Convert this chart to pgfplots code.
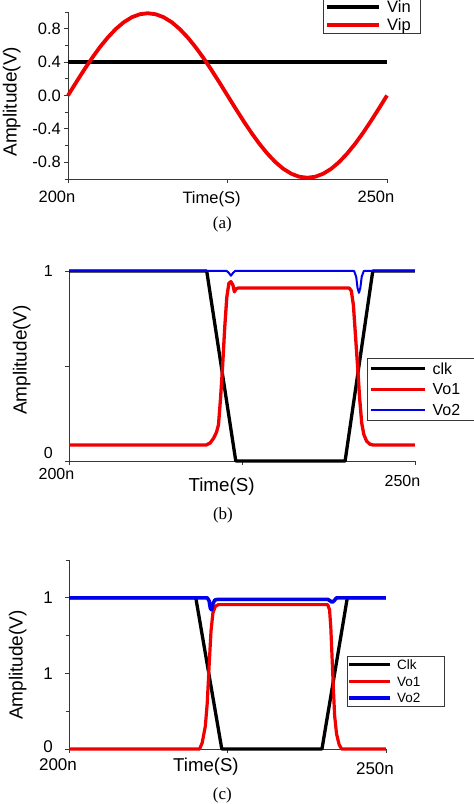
\documentclass[border=0pt]{standalone}
\usepackage{fontspec}
\setmainfont{Liberation Serif}
\setsansfont{Liberation Sans}
\usepackage{pgfplots}
\pgfplotsset{compat=1.18}

\definecolor{sigred}{RGB}{240,0,0}
\definecolor{sigblue}{RGB}{0,0,235}
\definecolor{axgray}{RGB}{55,55,55}
\newcommand\fs[1]{\fontsize{#1}{#1}\selectfont}

\pgfplotsset{
  panel/.style={
    scale only axis, clip=false,
    axis x line=bottom, axis y line=left,
    axis line style={-, line width=0.9pt, axgray},
    tick style={line width=0.9pt, axgray},
    tick align=outside, major tick length=4pt, minor tick length=3pt,
    xmin=200, xmax=250, xtick={200,225,250},
    /pgf/number format/assume math mode=true,
    xticklabel style={anchor=base, inner sep=0pt, xshift=-11pt},
    yticklabel style={anchor=east, inner sep=0pt},
    legend cell align=left,
    every axis plot/.append style={line join=round},
  },
}

\begin{document}
\begin{tikzpicture}
\useasboundingbox (0pt,0pt) rectangle (474pt,804pt);

% ---------- (a) input signals ----------
\begin{axis}[panel,
  at={(68pt,625pt)}, anchor=south west, width=319pt, height=167pt,
  ymin=-1, ymax=1,
  ytick={-0.8,-0.4,0,0.4,0.8}, yticklabels={-0.8,-0.4,0.0,0.4,0.8},
  minor ytick={-1,-0.6,-0.2,0.2,0.6,1},
  xticklabels={200n,,250n},
  tick label style={font=\sffamily\fs{16.5}},
  xticklabel style={yshift=-19.5pt},
  yticklabel style={xshift=-3pt},
  xlabel={Time(S)},
  xlabel style={at={(axis description cs:0.45,0)}, anchor=base, yshift=-25pt, font=\sffamily\fs{16.5}},
  ylabel={Amplitude(V)},
  ylabel style={at={(axis description cs:-0.161,0.463)}, anchor=base, font=\sffamily\fs{19}},
  legend style={at={(axis description cs:0.7994,0.868)}, anchor=south west,
    draw=axgray, line width=0.8pt, fill=white, inner sep=0pt, row sep=0pt,
    font=\sffamily\fs{16.5},
    nodes={inner sep=0pt, text height=14.75pt, text depth=2.95pt}},
  legend image code/.code={\draw[#1] (0pt,0pt) -- (52pt,0pt); \path (-2pt,0pt) (58pt,0pt);},
]
\addplot[black, line width=3.3pt] coordinates {(200,0.4) (250,0.4)};
\addlegendentry{Vin\hspace*{10pt}}
\addplot[sigred, line width=3.8pt] coordinates {
 (200,0) (201.25,0.154) (202.5,0.304) (203.75,0.447) (205,0.579)
 (206.25,0.696) (207.5,0.797) (208.75,0.878) (210,0.937) (211.25,0.973)
 (212.5,0.985) (213.75,0.973) (215,0.937) (216.25,0.878) (217.5,0.797)
 (218.75,0.696) (220,0.579) (221.25,0.447) (222.5,0.304) (223.75,0.154)
 (225,0) (226.25,-0.154) (227.5,-0.304) (228.75,-0.447) (230,-0.579)
 (231.25,-0.696) (232.5,-0.797) (233.75,-0.878) (235,-0.937) (236.25,-0.973)
 (237.5,-0.985) (238.75,-0.973) (240,-0.937) (241.25,-0.878) (242.5,-0.797)
 (243.75,-0.696) (245,-0.579) (246.25,-0.447) (247.5,-0.304) (248.75,-0.154)
 (250,0)};
\addlegendentry{Vip\hspace*{10pt}}
\node[font=\rmfamily\fs{17}] at (axis description cs:0.484,-0.269) {(a)};
\end{axis}

% ---------- (b) comparator outputs ----------
\begin{axis}[panel,
  at={(69pt,343pt)}, anchor=south west, width=346pt, height=190pt,
  ymin=0, ymax=1,
  ytick={0.5,1}, yticklabels={,1},
  extra y ticks={0}, extra y tick labels={0},
  extra y tick style={yticklabel style={yshift=8pt}},
  xticklabels={\raisebox{7pt}{200n},,250n},
  tick label style={font=\sffamily\fs{16}},
  xticklabel style={yshift=-21.5pt, xshift=-1.5pt},
  yticklabel style={xshift=-12pt},
  xlabel={Time(S)},
  xlabel style={at={(axis description cs:0.441,0)}, anchor=base, yshift=-30.7pt, font=\sffamily\fs{18.8}},
  ylabel={Amplitude(V)},
  ylabel style={at={(axis description cs:-0.1225,0.532)}, anchor=base, font=\sffamily\fs{19}},
  legend style={at={(axis description cs:0.861,0.542)}, anchor=north west,
    draw=axgray, line width=0.8pt, fill=white, inner sep=0pt, row sep=0pt,
    font=\sffamily\fs{16},
    nodes={inner sep=0pt, text height=15.95pt, text depth=4.55pt}},
  legend image code/.code={\draw[#1] (0pt,0pt) -- (54pt,0pt); \path (-2pt,0pt) (60pt,0pt);},
]
\addplot[black, line width=3.3pt] coordinates {
 (200,1) (219.9,1) (224.1,0) (239.9,0) (243.9,1) (250,1)};
\addlegendentry{clk\hspace*{22pt}}
\addplot[sigred, line width=3.3pt] coordinates {
 (200,0.084) (219.8,0.084) (220.4,0.095) (220.9,0.12) (221.3,0.15) (221.6,0.19)
 (221.9,0.33) (222.2,0.5) (222.5,0.7) (222.8,0.86) (223.1,0.935) (223.4,0.944)
 (223.7,0.925) (223.9,0.89) (224.1,0.905) (224.4,0.91) (240.5,0.91) (240.8,0.895)
 (241.1,0.82) (241.4,0.66) (241.7,0.5) (242.0,0.33) (242.3,0.2) (242.6,0.14)
 (243.0,0.105) (243.5,0.088) (244.0,0.084) (250,0.084)};
\addlegendentry{Vo1\hspace*{22pt}}
\addplot[sigblue, line width=2pt] coordinates {
 (200,1) (222.8,1) (223.1,0.99) (223.4,0.975) (223.7,0.99) (224.0,1)
 (241.2,1) (241.5,0.97) (241.7,0.91) (241.9,0.885) (242.1,0.91) (242.3,0.97)
 (242.6,1) (250,1)};
\addlegendentry{Vo2\hspace*{22pt}}
\node[font=\rmfamily\fs{17}] at (axis description cs:0.445,-0.284) {(b)};
\end{axis}

% ---------- (c) comparator outputs, second design ----------
\begin{axis}[panel,
  at={(69pt,55pt)}, anchor=south west, width=317pt, height=189pt,
  ymin=0, ymax=1.25,
  ytick={0.5,1}, yticklabels={1,1},
  extra y ticks={0}, extra y tick labels={0},
  extra y tick style={yticklabel style={yshift=2pt}},
  minor ytick={0.25,0.75,1.25},
  xticklabels={\raisebox{4pt}{200n},,250n},
  tick label style={font=\sffamily\fs{17}},
  xticklabel style={yshift=-21pt},
  yticklabel style={xshift=-12pt},
  xlabel={Time(S)},
  xlabel style={at={(axis description cs:0.432,0)}, anchor=base, yshift=-22.6pt, font=\sffamily\fs{18.6}},
  ylabel={Amplitude(V)},
  ylabel style={at={(axis description cs:-0.146,0.444)}, anchor=base, font=\sffamily\fs{19}},
  legend style={at={(axis description cs:0.877,0.492)}, anchor=north west,
    draw=axgray, line width=0.8pt, fill=white, inner sep=0pt, row sep=0pt,
    font=\sffamily\fs{13.5},
    nodes={inner sep=0pt, text height=13.15pt, text depth=3.55pt},
    row 3/.style={nodes={text depth=12.2pt}}},
  legend image code/.code={\draw[#1] (0pt,0pt) -- (41pt,0pt); \path (0pt,0pt) (46pt,0pt);},
]
\addplot[black, line width=3.3pt] coordinates {
 (200,1) (220.0,1) (224.1,0) (239.9,0) (243.9,1) (250,1)};
\addlegendentry{Clk\hspace*{24pt}}
\addplot[sigred, line width=3.2pt] coordinates {
 (200,0) (220.6,0) (221.0,0.04) (221.5,0.15) (221.8,0.3) (222.1,0.55)
 (222.4,0.78) (222.7,0.9) (223.1,0.945) (223.6,0.955) (240.8,0.955) (241.1,0.92)
 (241.3,0.8) (241.5,0.6) (241.7,0.4) (241.9,0.22) (242.2,0.1) (242.6,0.03)
 (243.0,0) (250,0)};
\addlegendentry{Vo1\hspace*{24pt}}
\addplot[sigblue, line width=3.6pt] coordinates {
 (200,1) (221.8,1) (222.1,0.98) (222.3,0.93) (222.5,0.92) (222.7,0.96)
 (223.0,0.985) (223.5,0.99) (240.8,0.99) (241.2,0.98) (241.5,0.97) (241.8,0.98)
 (242.2,1) (250,1)};
\addlegendentry{Vo2\hspace*{24pt}}
\node[font=\rmfamily\fs{17}] at (axis description cs:0.484,-0.243) {(c)};
\end{axis}
\end{tikzpicture}
\end{document}
